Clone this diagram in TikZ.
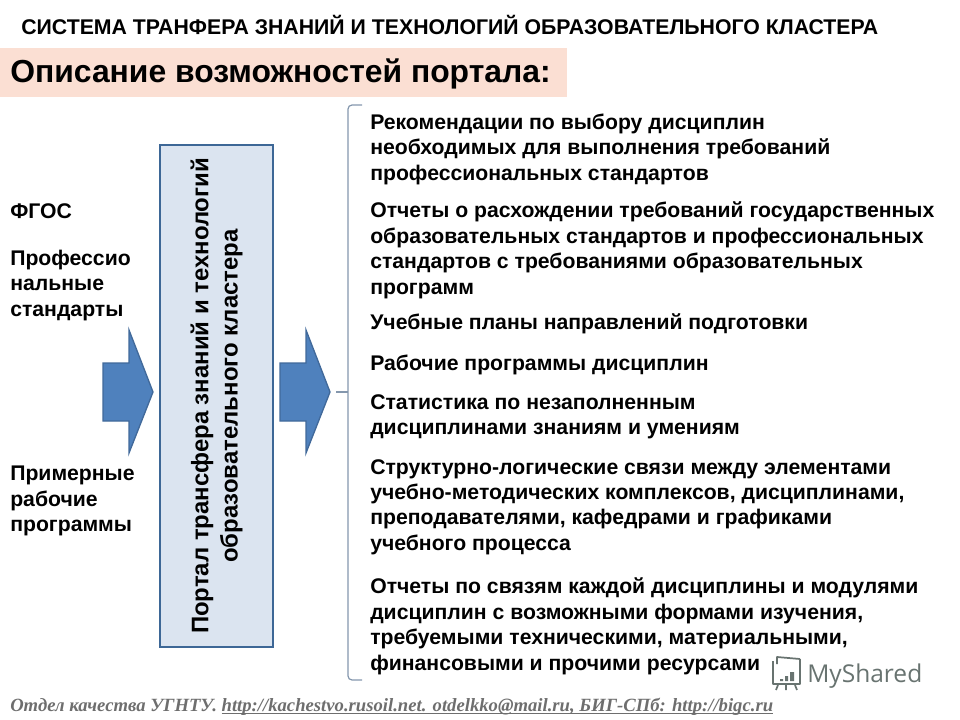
\documentclass[tikz,border=0pt]{standalone}
\usepackage{fontspec}
\setmainfont{Liberation Sans}
\newfontfamily\footfont{Liberation Serif}
\newfontfamily\markfont{Open Sans}
\definecolor{boxfill}{HTML}{DBE4F0}
\definecolor{boxline}{HTML}{3D6796}
\definecolor{arrowfill}{HTML}{4F81BD}
\definecolor{arrowline}{HTML}{41699A}
\definecolor{bracecol}{HTML}{8497AD}
\definecolor{peach}{HTML}{FBDFD3}
\definecolor{footcol}{HTML}{6E6E6E}
\definecolor{markcol}{HTML}{687370}
\tikzset{
  item/.style={anchor=west,inner sep=0pt,align=left,font=\fontsize{15.9}{19.1}\selectfont\bfseries},
  bluearrow/.style={draw=arrowline,fill=arrowfill,line width=1pt,line join=miter},
}
\def\bluearrow#1{\draw[bluearrow,shift={#1}] (0,-29) -- (26,-29) -- (26,-62) -- (50,0) -- (26,61) -- (26,29) -- (0,29) -- cycle;}
\def\itemnode{\node[item]}
\begin{document}
\begin{tikzpicture}[x=0.75pt,y=-0.75pt]
\useasboundingbox (0,0) rectangle (960,720);
% heading
\node[anchor=west,inner sep=0pt,font=\fontsize{15.95}{18}\selectfont\bfseries] (title) at (21,25) {СИСТЕМА ТРАНФЕРА ЗНАНИЙ И ТЕХНОЛОГИЙ ОБРАЗОВАТЕЛЬНОГО КЛАСТЕРА};
\fill[peach] (0,48) rectangle (567,97);
\node[anchor=west,inner sep=0pt,font=\fontsize{23.9}{28}\selectfont\bfseries] (head) at (10,74) {Описание возможностей портала:};
% inputs
\itemnode (fgos) at (10,211.5) {ФГОС};
\itemnode (prof) at (10,285.5) {Профессио\\нальные\\стандарты};
\itemnode (prim) at (10,501) {Примерные\\рабочие\\программы};
\bluearrow{(103,392)}
% portal
\node[rotate=90,draw=boxline,fill=boxfill,line width=2.2pt,inner sep=0pt,minimum width=376.5pt,minimum height=84.75pt,align=center,font=\fontsize{17.95}{22}\selectfont\bfseries] (portal) at (216.5,396) {Портал трансфера знаний и технологий\\образовательного кластера};
\bluearrow{(280,392)}
% brace
\coordinate (bracetop) at (362,105);
\coordinate (bracebot) at (362,680);
\coordinate (bracetip) at (336,392);
\draw[bracecol,line width=0.9pt,rounded corners=3pt] (bracetop) -- (348,105) -- (348,680) -- (bracebot);
\draw[bracecol,line width=0.9pt] (bracetip) -- (348,392);
% outputs
\itemnode (rec) at (370,149) {Рекомендации по выбору дисциплин\\необходимых для выполнения требований\\профессиональных стандартов};
\itemnode (otch) at (370,250.5) {Отчеты о расхождении требований государственных\\образовательных стандартов и профессиональных\\стандартов с требованиями образовательных\\программ};
\itemnode (plan) at (370,324) {Учебные планы направлений подготовки};
\itemnode (prog) at (370,365) {Рабочие программы дисциплин};
\itemnode (stat) at (370,417) {Статистика по незаполненным\\дисциплинами знаниям и умениям};
\itemnode (struct) at (370,507) {Структурно-логические связи между элементами\\учебно-методических комплексов, дисциплинами,\\преподавателями, кафедрами и графиками\\учебного процесса};
\itemnode (svyaz) at (370,626.5) {Отчеты по связям каждой дисциплины и модулями\\дисциплин с возможными формами изучения,\\требуемыми техническими, материальными,\\финансовыми и прочими ресурсами};
% watermark
\draw[markcol,line width=1.3pt,line join=round] (777,664) -- (777,657) -- (800,659) (773,661) -- (773,684) -- (800,684) -- (800,659);
\fill[markcol] (780,679) rectangle (783,681) (785,676) rectangle (788,681) (790,672) rectangle (794,681);
\draw[markcol,line width=1.3pt] (778,685) -- (776,690) (786,685) -- (786,690) (795,685) -- (797,690);
\node[anchor=west,inner sep=0pt,text=markcol,font=\markfont\fontsize{18.4}{22}\selectfont] (mark) at (807,676.5) {MyShared};
% footer
\node[anchor=base west,inner sep=0pt,text=footcol,font=\footfont\fontsize{14}{16}\selectfont\bfseries\itshape] (foot) at (10,711) {Отдел качества УГНТУ. \underline{\smash{http://kachestvo.rusoil.net. otdelkko@mail.ru, БИГ-СПб: http://bigc.ru}}};
\end{tikzpicture}
\end{document}
